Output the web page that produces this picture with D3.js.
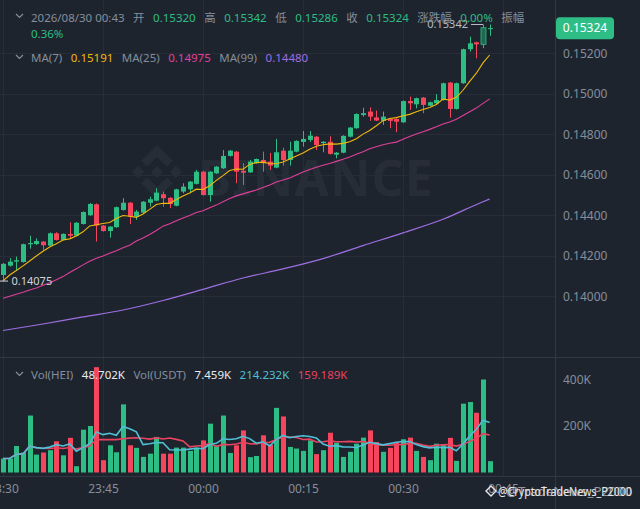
<!DOCTYPE html>
<html><head><meta charset="utf-8">
<script src="https://cdn.jsdelivr.net/npm/d3@7"></script>
<style>
html,body{margin:0;padding:0;background:#1e242e;overflow:hidden}
svg{display:block}
</style></head><body>
<script>
var W = 640, H = 509;
var FONT = "'Noto Sans','Noto Sans CJK SC',sans-serif";
var up = "#2ebd85", down = "#f6465d", gray = "#848e9c";

// one candle per minute, starting 23:30
var opens  = [0.14105,0.14151,0.14171,0.14169,0.14257,0.14258,0.14270,0.14250,0.14311,0.14278,
              0.14308,0.14299,0.14357,0.14400,0.14454,0.14349,0.14322,0.14341,0.14426,0.14462,
              0.14393,0.14413,0.14462,0.14472,0.14504,0.14486,0.14447,0.14517,0.14528,0.14555,
              0.14615,0.14500,0.14607,0.14632,0.14693,0.14714,0.14620,0.14612,0.14657,0.14673,
              0.14665,0.14635,0.14719,0.14673,0.14714,0.14762,0.14772,0.14788,0.14756,0.14763,
              0.14699,0.14709,0.14788,0.14830,0.14895,0.14912,0.14883,0.14866,0.14876,0.14876,
              0.14859,0.14964,0.14948,0.14981,0.14941,0.14953,0.14969,0.15055,0.14925,0.15052,
              0.15220,0.15254,0.15244,0.15320];
var highs  = [0.14164,0.14188,0.14196,0.14260,0.14299,0.14286,0.14273,0.14315,0.14316,0.14310,
              0.14365,0.14366,0.14419,0.14460,0.14458,0.14352,0.14346,0.14443,0.14484,0.14465,
              0.14426,0.14470,0.14492,0.14533,0.14517,0.14490,0.14531,0.14558,0.14569,0.14624,
              0.14620,0.14618,0.14643,0.14722,0.14722,0.14717,0.14657,0.14673,0.14680,0.14714,
              0.14708,0.14777,0.14734,0.14763,0.14770,0.14816,0.14816,0.14791,0.14766,0.14790,
              0.14712,0.14795,0.14836,0.14903,0.14931,0.14933,0.14917,0.14912,0.14879,0.14879,
              0.14967,0.14986,0.14981,0.14984,0.14961,0.14998,0.15055,0.15058,0.15055,0.15223,
              0.15282,0.15257,0.15342,0.15342];
var lows   = [0.14075,0.14146,0.14126,0.14166,0.14235,0.14253,0.14229,0.14247,0.14275,0.14276,
              0.14286,0.14297,0.14354,0.14397,0.14270,0.14319,0.14289,0.14338,0.14423,0.14356,
              0.14377,0.14410,0.14442,0.14469,0.14442,0.14435,0.14444,0.14509,0.14509,0.14552,
              0.14497,0.14467,0.14604,0.14629,0.14690,0.14558,0.14550,0.14609,0.14655,0.14615,
              0.14624,0.14632,0.14645,0.14645,0.14711,0.14739,0.14762,0.14722,0.14711,0.14700,
              0.14681,0.14706,0.14785,0.14827,0.14887,0.14866,0.14865,0.14846,0.14830,0.14810,
              0.14856,0.14920,0.14928,0.14904,0.14938,0.14950,0.14966,0.14882,0.14922,0.15049,
              0.15208,0.15175,0.15225,0.15286];
var closes = [0.14160,0.14171,0.14178,0.14257,0.14263,0.14273,0.14252,0.14311,0.14278,0.14308,
              0.14299,0.14363,0.14416,0.14456,0.14349,0.14322,0.14344,0.14440,0.14462,0.14393,
              0.14418,0.14467,0.14479,0.14512,0.14484,0.14456,0.14528,0.14541,0.14566,0.14615,
              0.14500,0.14615,0.14640,0.14693,0.14719,0.14615,0.14610,0.14665,0.14678,0.14657,
              0.14645,0.14711,0.14673,0.14719,0.14767,0.14777,0.14793,0.14747,0.14763,0.14703,
              0.14709,0.14792,0.14833,0.14900,0.14904,0.14887,0.14868,0.14887,0.14866,0.14862,
              0.14964,0.14953,0.14978,0.14945,0.14958,0.14969,0.15052,0.14925,0.15052,0.15220,
              0.15249,0.15244,0.15326,0.15324];
// volume in K HEI
var volumes = [60,60,114,86,245,77,86,96,134,74,149,27,184,200,453,53,117,87,293,117,
               106,67,81,153,81,81,107,107,93,107,138,210,117,245,84,117,181,66,71,160,
               120,278,241,110,103,93,138,79,96,171,128,67,89,124,150,181,131,89,106,131,
               143,150,93,67,53,124,120,149,50,296,303,257,400,48.702];

// moving-average values before enough candles are on screen
var ma7Lead  = [0.14076,0.14105,0.14127,0.14150,0.14174,0.14199];
var ma25Lead = [0.13990,0.14000,0.14010,0.14020,0.14031,0.14041,0.14054,0.14067,0.14081,0.14097,
                0.14117,0.14136,0.14155,0.14173,0.14188,0.14199,0.14212,0.14225,0.14239,0.14252,
                0.14273,0.14288,0.14305,0.14325];
var ma99Idx  = [0,6,12,18,24,30,36,42,48,54,60,66,72,73];
var ma99Vals = [0.13831,0.13863,0.13898,0.13932,0.13979,0.14034,0.14090,0.14135,0.14186,0.14250,
                0.14313,0.14380,0.14467,0.14480];

var priceTicks = [0.140,0.142,0.144,0.146,0.148,0.150,0.152];
var volTicks = [200,400];

var headerTime = "2026/08/30 00:43";
var headerLabels = ["开","高","低","收","涨跌幅","振幅"];
var headerValues = ["0.15320","0.15342","0.15286","0.15324","0.00%","0.36%"];
var maLabels = ["MA(7)","MA(25)","MA(99)"];
var maValues = ["0.15191","0.14975","0.14480"];
var maColors = ["#f0b90b","#e0409a","#9d6fe3"];
var volLabels = ["Vol(HEI)","Vol(USDT)"];
var volValues = ["48.702K","7.459K","214.232K","159.189K"];
var volMaColors = ["#4fc0d6","#e8435f"];

var t0 = new Date(2026, 7, 29, 23, 30);
var times = closes.map(function(c, i){ return d3.timeMinute.offset(t0, i); });

var x = d3.scaleTime().domain([t0, new Date(2026, 7, 30, 0, 45)]).range([3, 503]);
var y = d3.scaleLinear().domain([0.13700, 0.15463]).range([357, 0]);
var yv = d3.scaleLinear().domain([0, 400]).range([472.5, 379.5]);

function sma(arr, n, i){
  var s = 0, k = 0;
  for (var j = Math.max(0, i - n + 1); j <= i; j++){ s += arr[j]; k++; }
  return s / k;
}
var ma7 = closes.map(function(c, i){ return i < 6 ? ma7Lead[i] : sma(closes, 7, i); });
var ma25 = closes.map(function(c, i){ return i < 24 ? ma25Lead[i] : sma(closes, 25, i); });
var volMa7 = volumes.map(function(v, i){ return sma(volumes, 7, i); });
var volMa14 = volumes.map(function(v, i){ return sma(volumes, 14, i); });

const svg = d3.select("body").append("svg").attr("width", W).attr("height", H)
  .style("background-color", "#1e242e").style("font-family", FONT);

var defs = svg.append("defs");
defs.append("clipPath").attr("id", "pclip").append("rect").attr("x", 0).attr("y", 0).attr("width", 556).attr("height", 357);
defs.append("clipPath").attr("id", "vclip").append("rect").attr("x", 0).attr("y", 358).attr("width", 556).attr("height", 118);

//GRID
var grid = svg.append("g").attr("stroke", "#272d37").attr("stroke-width", 1);
grid.selectAll("line.h").data(priceTicks).join("line")
  .attr("x1", 0).attr("x2", 556).attr("y1", d => Math.round(y(d)) + 0.5).attr("y2", d => Math.round(y(d)) + 0.5);
var timeTicks = x.ticks(d3.timeMinute.every(15));
grid.selectAll("line.v").data(timeTicks).join("line")
  .attr("y1", 0).attr("y2", 477).attr("x1", d => Math.round(x(d)) + 0.5).attr("x2", d => Math.round(x(d)) + 0.5);

//WATERMARK
var wm = svg.append("g").attr("fill", "#272d37");
var logo = wm.append("g").attr("transform", "translate(157,172) scale(0.43)");
[
  [[0,-63],[37,-26],[23,-12],[0,-35],[-23,-12],[-37,-26]],
  [[0,63],[37,26],[23,12],[0,35],[-23,12],[-37,26]],
  [[0,-14],[14,0],[0,14],[-14,0]],
  [[-44,-14],[-30,0],[-44,14],[-58,0]],
  [[44,-14],[58,0],[44,14],[30,0]]
].forEach(function(p){ logo.append("path").attr("d", "M" + p.join("L") + "Z"); });
wm.append("text").attr("x", 198).attr("y", 196).attr("font-size", 50).attr("font-weight", 700)
  .attr("letter-spacing", 1).text("BINANCE");

//PANE BORDERS
var border = svg.append("g").attr("stroke", "#313844").attr("stroke-width", 1);
border.append("line").attr("x1", 0).attr("x2", W).attr("y1", 357.5).attr("y2", 357.5);
border.append("line").attr("x1", 0).attr("x2", W).attr("y1", 476.5).attr("y2", 476.5);
border.append("line").attr("x1", 555.5).attr("x2", 555.5).attr("y1", 0).attr("y2", H);

//MA LINES
var price = svg.append("g").attr("clip-path", "url(#pclip)");
var line = d3.line().x((d, i) => x(times[i])).y(d => y(d));
price.append("path").datum(ma25).attr("d", line).attr("fill", "none").attr("stroke", maColors[1]).attr("stroke-width", 1.1);
price.append("path").datum(ma99Vals)
  .attr("d", d3.line().x((d, i) => x(times[ma99Idx[i]])).y(d => y(d)).curve(d3.curveMonotoneX))
  .attr("fill", "none").attr("stroke", maColors[2]).attr("stroke-width", 1.2);

//CANDLES
var candles = price.selectAll("g.c").data(closes).join("g");
candles.append("line")
  .attr("x1", (d, i) => Math.round(x(times[i])) + 0.5).attr("x2", (d, i) => Math.round(x(times[i])) + 0.5)
  .attr("y1", (d, i) => y(highs[i])).attr("y2", (d, i) => y(lows[i]))
  .attr("stroke", (d, i) => d >= opens[i] ? up : down).attr("stroke-width", 1);
candles.append("rect")
  .attr("x", (d, i) => Math.round(x(times[i])) - 2)
  .attr("width", 5)
  .attr("y", (d, i) => y(Math.max(d, opens[i])))
  .attr("height", (d, i) => Math.max(1, Math.abs(y(d) - y(opens[i]))))
  .attr("fill", (d, i) => i === closes.length - 2 ? "#1c6b50" : (d >= opens[i] ? up : down))
  .attr("stroke", (d, i) => i === closes.length - 2 ? up : "none").attr("stroke-width", 0.8);

price.append("path").datum(ma7).attr("d", line).attr("fill", "none").attr("stroke", maColors[0]).attr("stroke-width", 1.1);

//HIGH / LOW MARKERS
var hi = d3.maxIndex(highs), lo = d3.minIndex(lows);
var hx = Math.round(x(times[hi])), hy = y(highs[hi]);
svg.append("line").attr("x1", hx - 12).attr("x2", hx).attr("y1", hy).attr("y2", hy).attr("stroke", "#b7bdc6");
svg.append("text").attr("x", hx - 15).attr("y", hy).attr("dy", "0.35em").attr("text-anchor", "end")
  .attr("font-size", 11).attr("fill", "#b7bdc6").text(d3.format(".5f")(highs[hi]));
var lx = Math.round(x(times[lo])), ly = y(lows[lo]);
svg.append("line").attr("x1", lx - 4).attr("x2", lx + 5).attr("y1", ly).attr("y2", ly).attr("stroke", "#d0d4da");
svg.append("text").attr("x", lx + 8.5).attr("y", ly).attr("dy", "0.35em")
  .attr("font-size", 11).attr("fill", "#d0d4da").text(d3.format(".5f")(lows[lo]));

//VOLUME
var vol = svg.append("g").attr("clip-path", "url(#vclip)");
vol.selectAll("rect").data(volumes).join("rect")
  .attr("x", (d, i) => Math.round(x(times[i])) - 2).attr("width", 5)
  .attr("y", d => yv(d)).attr("height", d => yv(0) - yv(d))
  .attr("fill", (d, i) => closes[i] >= opens[i] ? up : down);
var vline = d3.line().x((d, i) => x(times[i])).y(d => yv(d));
vol.append("path").datum(volMa14).attr("d", vline).attr("fill", "none").attr("stroke", volMaColors[1]).attr("stroke-width", 1.6);
vol.append("path").datum(volMa7).attr("d", vline).attr("fill", "none").attr("stroke", volMaColors[0]).attr("stroke-width", 1.6);

//AXES
var pAxis = svg.append("g").attr("transform", "translate(556,0)")
  .call(d3.axisRight(y).tickValues(priceTicks).tickFormat(d3.format(".5f")).tickSize(0).tickPadding(7));
var vAxis = svg.append("g").attr("transform", "translate(556,0)")
  .call(d3.axisRight(yv).tickValues(volTicks).tickFormat(d => d + "K").tickSize(0).tickPadding(7));
var tAxis = svg.append("g").attr("transform", "translate(0,484)")
  .call(d3.axisBottom(x).ticks(d3.timeMinute.every(15)).tickFormat(d3.timeFormat("%H:%M")).tickSize(0).tickPadding(0));
[pAxis, vAxis, tAxis].forEach(function(a){
  a.select(".domain").remove();
  a.selectAll("text").attr("fill", gray).attr("font-size", 12).attr("font-family", FONT);
});

//LAST PRICE BADGE
var last = closes[closes.length - 1];
svg.append("rect").attr("x", 556).attr("y", y(last) - 11).attr("width", 58).attr("height", 22).attr("rx", 4).attr("fill", "#2fbd86");
svg.append("text").attr("x", 585).attr("y", y(last)).attr("dy", "0.35em").attr("text-anchor", "middle")
  .attr("font-size", 12).attr("fill", "#ffffff").text(d3.format(".5f")(last));

//LEGENDS
function chevron(cy){
  svg.append("path").attr("d", "M16," + (cy - 2) + "L19.5," + (cy + 1.5) + "L23," + (cy - 2))
    .attr("fill", "none").attr("stroke", gray).attr("stroke-width", 1.2);
}
function row(items, x0, yb, gap){
  var cx = x0;
  items.forEach(function(it){
    var t = svg.append("text").attr("x", cx).attr("y", yb).attr("font-size", 11.5).attr("fill", it[1]).text(it[0]);
    cx += t.node().getComputedTextLength() + gap;
  });
}
chevron(16);
var head = [[headerTime, gray]];
headerLabels.forEach(function(l, i){ head.push([l, gray]); if (i < 5) head.push([headerValues[i], up]); });
row(head, 31, 21.5, 8.5);
row([[headerValues[5], up]], 31, 38, 8);

chevron(57);
var maRow = [];
maLabels.forEach(function(l, i){ maRow.push([l, gray]); maRow.push([maValues[i], maColors[i]]); });
row(maRow, 31, 62, 8.5);

chevron(374);
row([[volLabels[0], gray], [volValues[0], "#eaecef"], [volLabels[1], gray], [volValues[1], "#eaecef"],
     [volValues[2], volMaColors[0]], [volValues[3], volMaColors[1]]], 31, 379, 8.5);

//CORNER WATERMARK
var cw = svg.append("g").attr("fill", "#e6e8ea").attr("font-size", 12);
cw.append("path").attr("d", "M491,486L496,491L491,496L486,491Z").attr("fill", "none").attr("stroke", "#e6e8ea").attr("stroke-width", 1.4);
cw.append("text").attr("x", 498).attr("y", 496).attr("textLength", 134).attr("lengthAdjust", "spacingAndGlyphs").text("@CryptoTradeNews_P2000");
cw.append("text").attr("x", 506).attr("y", 496).attr("opacity", 0.6).attr("textLength", 126).attr("lengthAdjust", "spacingAndGlyphs").text("@TradeNews_P2000");
</script>
</body></html>
